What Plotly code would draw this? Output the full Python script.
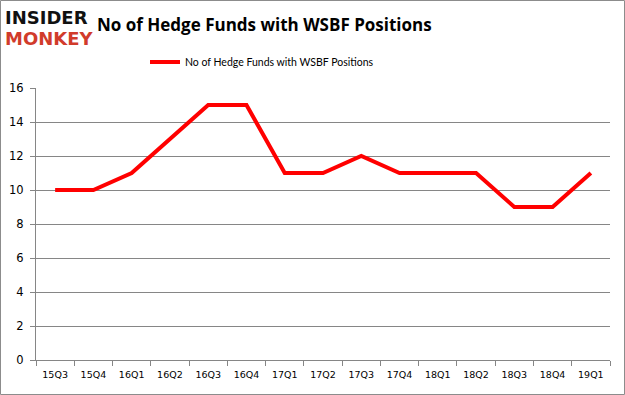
import plotly.graph_objects as go

quarters = ["15Q3", "15Q4", "16Q1", "16Q2", "16Q3", "16Q4", "17Q1", "17Q2",
            "17Q3", "17Q4", "18Q1", "18Q2", "18Q3", "18Q4", "19Q1"]
funds = [10, 10, 11, 13, 15, 15, 11, 11, 12, 11, 11, 11, 9, 9, 11]
y_ticks = [0, 2, 4, 6, 8, 10, 12, 14, 16]
series_name = "No of Hedge Funds with WSBF Positions"
title_text = "No of Hedge Funds with WSBF Positions"

W, H = 625, 395
ML, MR, MT, MB = 36, 15, 88, 35
PW, PH = W - ML - MR, H - MT - MB

fig = go.Figure()
fig.add_trace(go.Scatter(
    x=quarters, y=funds, mode="lines", name=series_name,
    line=dict(color="#FF0000", width=4),
))

grid = "#868686"
fig.update_layout(
    width=W, height=H,
    margin=dict(l=ML, r=MR, t=MT, b=MB, autoexpand=False),
    paper_bgcolor="white", plot_bgcolor="white",
    showlegend=True,
    legend=dict(orientation="h", x=(145 - ML) / PW, xanchor="left", y=1 + 26 / PH,
                yanchor="middle", font=dict(family="Lato", size=10.5, color="#000000"),
                bgcolor="rgba(0,0,0,0)"),
    xaxis=dict(type="category", range=[-0.5, 14.5], showgrid=False, automargin=False,
               showline=True, linecolor=grid, linewidth=1,
               ticks="outside", tickson="boundaries", ticklen=5, tickcolor=grid,
               tickangle=0, ticklabelstandoff=6,
               tickfont=dict(family="DejaVu Sans", size=9.5, color="#000000")),
    yaxis=dict(range=[0, 16], tickvals=y_ticks, showgrid=True, gridcolor=grid, gridwidth=1,
               automargin=False,
               showline=True, linecolor=grid, linewidth=1, zeroline=False,
               ticks="outside", ticklen=5, tickcolor=grid, ticklabelstandoff=4,
               tickfont=dict(family="DejaVu Sans", size=11.5, color="#000000")),
    font=dict(family="DejaVu Sans"),
)

# title
fig.add_annotation(text="<b>" + title_text + "</b>", xref="paper", yref="paper",
                   x=(95 - ML) / PW, y=1 + (MT - 25) / PH, xanchor="left", yanchor="middle",
                   showarrow=False, font=dict(family="Open Sans", size=17, color="#000000"))
# logo
fig.add_annotation(text="<b>INSIDER</b>", xref="paper", yref="paper",
                   x=(3 - ML) / PW, y=1 + (MT - 17) / PH, xanchor="left", yanchor="middle",
                   showarrow=False, font=dict(family="DejaVu Sans", size=18, color="#111111"))
fig.add_annotation(text="<b>MONKEY</b>", xref="paper", yref="paper",
                   x=(3 - ML) / PW, y=1 + (MT - 39) / PH, xanchor="left", yanchor="middle",
                   showarrow=False, font=dict(family="DejaVu Sans", size=18, color="#D13B2B"))
# outer border
fig.add_shape(type="rect", xref="paper", yref="paper",
              x0=(-ML + 0.5) / PW, x1=1 + (MR - 0.5) / PW,
              y0=(-MB + 0.5) / PH, y1=1 + (MT - 0.5) / PH,
              line=dict(color="#8C8C8C", width=1), fillcolor="rgba(0,0,0,0)", layer="below")

fig.write_html("out.html", config={"displayModeBar": False},
               post_script="document.body.style.margin='0';document.body.style.padding='0';")
